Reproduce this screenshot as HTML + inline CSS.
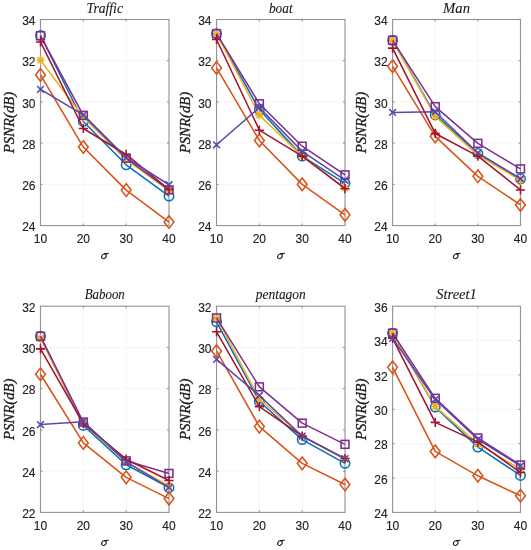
<!DOCTYPE html>
<html><head><meta charset="utf-8"><style>
html,body{margin:0;padding:0;background:#fff;width:531px;height:550px;overflow:hidden}
svg{display:block;will-change:transform}
.tk{font-family:"Liberation Sans",sans-serif;font-size:12px;fill:#1f1f1f;stroke:#1f1f1f;stroke-width:0.15px}
.ti{font-family:"Liberation Serif",serif;font-style:italic;font-size:14px;fill:#1a1a1a;stroke:#1a1a1a;stroke-width:0.1px}
.yl{font-family:"Liberation Serif",serif;font-style:italic;font-size:15.6px;fill:#1a1a1a;stroke:#1a1a1a;stroke-width:0.35px}
</style></head><body>
<svg width="531" height="550" viewBox="0 0 531 550">
<rect width="531" height="550" fill="#fff"/>
<line x1="83.33" y1="19.5" x2="83.33" y2="225.56" stroke="#f5f5f5" stroke-width="1"/>
<line x1="126.17" y1="19.5" x2="126.17" y2="225.56" stroke="#f5f5f5" stroke-width="1"/>
<line x1="40.5" y1="184.35" x2="169.0" y2="184.35" stroke="#f5f5f5" stroke-width="1"/>
<line x1="40.5" y1="143.14" x2="169.0" y2="143.14" stroke="#f5f5f5" stroke-width="1"/>
<line x1="40.5" y1="101.92" x2="169.0" y2="101.92" stroke="#f5f5f5" stroke-width="1"/>
<line x1="40.5" y1="60.71" x2="169.0" y2="60.71" stroke="#f5f5f5" stroke-width="1"/>
<rect x="40.5" y="19.5" width="128.50" height="206.06" fill="none" stroke="#949494" stroke-width="1.15"/>
<path d="M83.33 19.5v2.0M83.33 225.56v-2.0" stroke="#8c8c8c" stroke-width="1"/>
<path d="M126.17 19.5v2.0M126.17 225.56v-2.0" stroke="#8c8c8c" stroke-width="1"/>
<path d="M40.5 184.35h2.0M169.00 184.35h-2.0" stroke="#8c8c8c" stroke-width="1"/>
<path d="M40.5 143.14h2.0M169.00 143.14h-2.0" stroke="#8c8c8c" stroke-width="1"/>
<path d="M40.5 101.92h2.0M169.00 101.92h-2.0" stroke="#8c8c8c" stroke-width="1"/>
<path d="M40.5 60.71h2.0M169.00 60.71h-2.0" stroke="#8c8c8c" stroke-width="1"/>
<polyline points="40.50,35.37 83.33,121.50 126.17,164.77 169.00,196.09" fill="none" stroke="#0072BD" stroke-width="1.55" stroke-linejoin="round"/>
<circle cx="40.50" cy="35.37" r="4.7" fill="none" stroke="#0072BD" stroke-width="1.55"/>
<circle cx="83.33" cy="121.50" r="4.7" fill="none" stroke="#0072BD" stroke-width="1.55"/>
<circle cx="126.17" cy="164.77" r="4.7" fill="none" stroke="#0072BD" stroke-width="1.55"/>
<circle cx="169.00" cy="196.09" r="4.7" fill="none" stroke="#0072BD" stroke-width="1.55"/>
<polyline points="40.50,74.93 83.33,147.05 126.17,190.12 169.00,222.06" fill="none" stroke="#D95319" stroke-width="1.55" stroke-linejoin="round"/>
<path d="M40.50 68.63L45.40 74.93L40.50 81.23L35.60 74.93Z" fill="none" stroke="#D95319" stroke-width="1.55"/>
<path d="M83.33 140.75L88.23 147.05L83.33 153.35L78.43 147.05Z" fill="none" stroke="#D95319" stroke-width="1.55"/>
<path d="M126.17 183.82L131.07 190.12L126.17 196.42L121.27 190.12Z" fill="none" stroke="#D95319" stroke-width="1.55"/>
<path d="M169.00 215.76L173.90 222.06L169.00 228.36L164.10 222.06Z" fill="none" stroke="#D95319" stroke-width="1.55"/>
<polyline points="40.50,60.30 83.33,117.17 126.17,159.62 169.00,190.53" fill="none" stroke="#EDB120" stroke-width="1.55" stroke-linejoin="round"/>
<path d="M36.30 60.30H44.70M40.50 56.10V64.50M37.48 57.28L43.52 63.32M37.48 63.32L43.52 57.28" stroke="#EDB120" stroke-width="1.55"/>
<path d="M79.13 117.17H87.53M83.33 112.97V121.37M80.31 114.15L86.36 120.20M80.31 120.20L86.36 114.15" stroke="#EDB120" stroke-width="1.55"/>
<path d="M121.97 159.62H130.37M126.17 155.42V163.82M123.14 156.60L129.19 162.64M123.14 162.64L129.19 156.60" stroke="#EDB120" stroke-width="1.55"/>
<path d="M164.80 190.53H173.20M169.00 186.33V194.73M165.98 187.51L172.02 193.55M165.98 193.55L172.02 187.51" stroke="#EDB120" stroke-width="1.55"/>
<polyline points="40.50,35.78 83.33,115.32 126.17,158.18 169.00,189.91" fill="none" stroke="#7E2F8E" stroke-width="1.55" stroke-linejoin="round"/>
<rect x="36.55" y="31.83" width="7.90" height="7.90" fill="none" stroke="#7E2F8E" stroke-width="1.55"/>
<rect x="79.38" y="111.37" width="7.90" height="7.90" fill="none" stroke="#7E2F8E" stroke-width="1.55"/>
<rect x="122.22" y="154.23" width="7.90" height="7.90" fill="none" stroke="#7E2F8E" stroke-width="1.55"/>
<rect x="165.05" y="185.96" width="7.90" height="7.90" fill="none" stroke="#7E2F8E" stroke-width="1.55"/>
<polyline points="40.50,41.96 83.33,128.51 126.17,154.47 169.00,189.50" fill="none" stroke="#A2142F" stroke-width="1.55" stroke-linejoin="round"/>
<path d="M35.90 41.96H45.10M40.50 37.36V46.56" stroke="#A2142F" stroke-width="1.55"/>
<path d="M78.73 128.51H87.93M83.33 123.91V133.11" stroke="#A2142F" stroke-width="1.55"/>
<path d="M121.57 154.47H130.77M126.17 149.87V159.07" stroke="#A2142F" stroke-width="1.55"/>
<path d="M164.40 189.50H173.60M169.00 184.90V194.10" stroke="#A2142F" stroke-width="1.55"/>
<polyline points="40.50,89.35 83.33,114.91 126.17,157.56 169.00,184.76" fill="none" stroke="#5A48A8" stroke-width="1.55" stroke-linejoin="round"/>
<path d="M37.15 86.00L43.85 92.70M37.15 92.70L43.85 86.00" stroke="#5A48A8" stroke-width="1.55"/>
<path d="M79.98 111.56L86.68 118.26M79.98 118.26L86.68 111.56" stroke="#5A48A8" stroke-width="1.55"/>
<path d="M122.82 154.21L129.52 160.91M122.82 160.91L129.52 154.21" stroke="#5A48A8" stroke-width="1.55"/>
<path d="M165.65 181.41L172.35 188.11M165.65 188.11L172.35 181.41" stroke="#5A48A8" stroke-width="1.55"/>
<text x="35.50" y="231.16" class="tk" text-anchor="end">24</text>
<text x="35.50" y="189.95" class="tk" text-anchor="end">26</text>
<text x="35.50" y="148.74" class="tk" text-anchor="end">28</text>
<text x="35.50" y="107.52" class="tk" text-anchor="end">30</text>
<text x="35.50" y="66.31" class="tk" text-anchor="end">32</text>
<text x="35.50" y="25.10" class="tk" text-anchor="end">34</text>
<text x="40.50" y="243.46" class="tk" text-anchor="middle">10</text>
<text x="83.33" y="243.46" class="tk" text-anchor="middle">20</text>
<text x="126.17" y="243.46" class="tk" text-anchor="middle">30</text>
<text x="169.00" y="243.46" class="tk" text-anchor="middle">40</text>
<text x="104.75" y="13.10" class="ti" text-anchor="middle" textLength="36.4" lengthAdjust="spacingAndGlyphs">Traffic</text>
<g transform="translate(104.15,256.06)"><ellipse cx="0" cy="0.3" rx="2.05" ry="2.6" transform="rotate(38)" fill="none" stroke="#1a1a1a" stroke-width="1.05"/><path d="M0 -2.25L4.5 -2.7" stroke="#1a1a1a" stroke-width="1.1" fill="none"/></g>
<text x="0" y="0" transform="translate(13.50,122.53) rotate(-90)" class="yl" text-anchor="middle" textLength="61.5" lengthAdjust="spacingAndGlyphs">PSNR(dB)</text>
<line x1="259.37" y1="19.5" x2="259.37" y2="225.56" stroke="#f5f5f5" stroke-width="1"/>
<line x1="302.18" y1="19.5" x2="302.18" y2="225.56" stroke="#f5f5f5" stroke-width="1"/>
<line x1="216.55" y1="184.35" x2="345.0" y2="184.35" stroke="#f5f5f5" stroke-width="1"/>
<line x1="216.55" y1="143.14" x2="345.0" y2="143.14" stroke="#f5f5f5" stroke-width="1"/>
<line x1="216.55" y1="101.92" x2="345.0" y2="101.92" stroke="#f5f5f5" stroke-width="1"/>
<line x1="216.55" y1="60.71" x2="345.0" y2="60.71" stroke="#f5f5f5" stroke-width="1"/>
<rect x="216.55" y="19.5" width="128.45" height="206.06" fill="none" stroke="#949494" stroke-width="1.15"/>
<path d="M259.37 19.5v2.0M259.37 225.56v-2.0" stroke="#8c8c8c" stroke-width="1"/>
<path d="M302.18 19.5v2.0M302.18 225.56v-2.0" stroke="#8c8c8c" stroke-width="1"/>
<path d="M216.55 184.35h2.0M345.00 184.35h-2.0" stroke="#8c8c8c" stroke-width="1"/>
<path d="M216.55 143.14h2.0M345.00 143.14h-2.0" stroke="#8c8c8c" stroke-width="1"/>
<path d="M216.55 101.92h2.0M345.00 101.92h-2.0" stroke="#8c8c8c" stroke-width="1"/>
<path d="M216.55 60.71h2.0M345.00 60.71h-2.0" stroke="#8c8c8c" stroke-width="1"/>
<polyline points="216.55,33.72 259.37,109.55 302.18,156.12 345.00,183.32" fill="none" stroke="#0072BD" stroke-width="1.55" stroke-linejoin="round"/>
<circle cx="216.55" cy="33.72" r="4.7" fill="none" stroke="#0072BD" stroke-width="1.55"/>
<circle cx="259.37" cy="109.55" r="4.7" fill="none" stroke="#0072BD" stroke-width="1.55"/>
<circle cx="302.18" cy="156.12" r="4.7" fill="none" stroke="#0072BD" stroke-width="1.55"/>
<circle cx="345.00" cy="183.32" r="4.7" fill="none" stroke="#0072BD" stroke-width="1.55"/>
<polyline points="216.55,67.92 259.37,140.46 302.18,184.35 345.00,214.84" fill="none" stroke="#D95319" stroke-width="1.55" stroke-linejoin="round"/>
<path d="M216.55 61.62L221.45 67.92L216.55 74.22L211.65 67.92Z" fill="none" stroke="#D95319" stroke-width="1.55"/>
<path d="M259.37 134.16L264.27 140.46L259.37 146.76L254.47 140.46Z" fill="none" stroke="#D95319" stroke-width="1.55"/>
<path d="M302.18 178.05L307.08 184.35L302.18 190.65L297.28 184.35Z" fill="none" stroke="#D95319" stroke-width="1.55"/>
<path d="M345.00 208.54L349.90 214.84L345.00 221.14L340.10 214.84Z" fill="none" stroke="#D95319" stroke-width="1.55"/>
<polyline points="216.55,33.72 259.37,115.11 302.18,156.12 345.00,188.06" fill="none" stroke="#EDB120" stroke-width="1.55" stroke-linejoin="round"/>
<path d="M212.35 33.72H220.75M216.55 29.52V37.92M213.53 30.69L219.57 36.74M213.53 36.74L219.57 30.69" stroke="#EDB120" stroke-width="1.55"/>
<path d="M255.17 115.11H263.57M259.37 110.91V119.31M256.34 112.09L262.39 118.14M256.34 118.14L262.39 112.09" stroke="#EDB120" stroke-width="1.55"/>
<path d="M297.98 156.12H306.38M302.18 151.92V160.32M299.16 153.09L305.21 159.14M299.16 159.14L305.21 153.09" stroke="#EDB120" stroke-width="1.55"/>
<path d="M340.80 188.06H349.20M345.00 183.86V192.26M341.98 185.03L348.02 191.08M341.98 191.08L348.02 185.03" stroke="#EDB120" stroke-width="1.55"/>
<polyline points="216.55,33.72 259.37,103.78 302.18,146.23 345.00,174.87" fill="none" stroke="#7E2F8E" stroke-width="1.55" stroke-linejoin="round"/>
<rect x="212.60" y="29.77" width="7.90" height="7.90" fill="none" stroke="#7E2F8E" stroke-width="1.55"/>
<rect x="255.42" y="99.83" width="7.90" height="7.90" fill="none" stroke="#7E2F8E" stroke-width="1.55"/>
<rect x="298.23" y="142.28" width="7.90" height="7.90" fill="none" stroke="#7E2F8E" stroke-width="1.55"/>
<rect x="341.05" y="170.92" width="7.90" height="7.90" fill="none" stroke="#7E2F8E" stroke-width="1.55"/>
<polyline points="216.55,39.49 259.37,130.15 302.18,156.12 345.00,188.68" fill="none" stroke="#A2142F" stroke-width="1.55" stroke-linejoin="round"/>
<path d="M211.95 39.49H221.15M216.55 34.89V44.09" stroke="#A2142F" stroke-width="1.55"/>
<path d="M254.77 130.15H263.97M259.37 125.55V134.75" stroke="#A2142F" stroke-width="1.55"/>
<path d="M297.58 156.12H306.78M302.18 151.52V160.72" stroke="#A2142F" stroke-width="1.55"/>
<path d="M340.40 188.68H349.60M345.00 184.08V193.28" stroke="#A2142F" stroke-width="1.55"/>
<polyline points="216.55,144.78 259.37,107.49 302.18,151.38 345.00,180.23" fill="none" stroke="#5A48A8" stroke-width="1.55" stroke-linejoin="round"/>
<path d="M213.20 141.43L219.90 148.13M213.20 148.13L219.90 141.43" stroke="#5A48A8" stroke-width="1.55"/>
<path d="M256.02 104.14L262.72 110.84M256.02 110.84L262.72 104.14" stroke="#5A48A8" stroke-width="1.55"/>
<path d="M298.83 148.03L305.53 154.73M298.83 154.73L305.53 148.03" stroke="#5A48A8" stroke-width="1.55"/>
<path d="M341.65 176.88L348.35 183.58M341.65 183.58L348.35 176.88" stroke="#5A48A8" stroke-width="1.55"/>
<text x="211.55" y="231.16" class="tk" text-anchor="end">24</text>
<text x="211.55" y="189.95" class="tk" text-anchor="end">26</text>
<text x="211.55" y="148.74" class="tk" text-anchor="end">28</text>
<text x="211.55" y="107.52" class="tk" text-anchor="end">30</text>
<text x="211.55" y="66.31" class="tk" text-anchor="end">32</text>
<text x="211.55" y="25.10" class="tk" text-anchor="end">34</text>
<text x="216.55" y="243.46" class="tk" text-anchor="middle">10</text>
<text x="259.37" y="243.46" class="tk" text-anchor="middle">20</text>
<text x="302.18" y="243.46" class="tk" text-anchor="middle">30</text>
<text x="345.00" y="243.46" class="tk" text-anchor="middle">40</text>
<text x="280.77" y="13.10" class="ti" text-anchor="middle" textLength="23.6" lengthAdjust="spacingAndGlyphs">boat</text>
<g transform="translate(280.17,256.06)"><ellipse cx="0" cy="0.3" rx="2.05" ry="2.6" transform="rotate(38)" fill="none" stroke="#1a1a1a" stroke-width="1.05"/><path d="M0 -2.25L4.5 -2.7" stroke="#1a1a1a" stroke-width="1.1" fill="none"/></g>
<text x="0" y="0" transform="translate(189.55,122.53) rotate(-90)" class="yl" text-anchor="middle" textLength="61.5" lengthAdjust="spacingAndGlyphs">PSNR(dB)</text>
<line x1="435.23" y1="19.5" x2="435.23" y2="225.56" stroke="#f5f5f5" stroke-width="1"/>
<line x1="477.87" y1="19.5" x2="477.87" y2="225.56" stroke="#f5f5f5" stroke-width="1"/>
<line x1="392.6" y1="184.35" x2="520.5" y2="184.35" stroke="#f5f5f5" stroke-width="1"/>
<line x1="392.6" y1="143.14" x2="520.5" y2="143.14" stroke="#f5f5f5" stroke-width="1"/>
<line x1="392.6" y1="101.92" x2="520.5" y2="101.92" stroke="#f5f5f5" stroke-width="1"/>
<line x1="392.6" y1="60.71" x2="520.5" y2="60.71" stroke="#f5f5f5" stroke-width="1"/>
<rect x="392.6" y="19.5" width="127.90" height="206.06" fill="none" stroke="#949494" stroke-width="1.15"/>
<path d="M435.23 19.5v2.0M435.23 225.56v-2.0" stroke="#8c8c8c" stroke-width="1"/>
<path d="M477.87 19.5v2.0M477.87 225.56v-2.0" stroke="#8c8c8c" stroke-width="1"/>
<path d="M392.6 184.35h2.0M520.50 184.35h-2.0" stroke="#8c8c8c" stroke-width="1"/>
<path d="M392.6 143.14h2.0M520.50 143.14h-2.0" stroke="#8c8c8c" stroke-width="1"/>
<path d="M392.6 101.92h2.0M520.50 101.92h-2.0" stroke="#8c8c8c" stroke-width="1"/>
<path d="M392.6 60.71h2.0M520.50 60.71h-2.0" stroke="#8c8c8c" stroke-width="1"/>
<polyline points="392.60,40.31 435.23,114.91 477.87,153.44 520.50,178.78" fill="none" stroke="#0072BD" stroke-width="1.55" stroke-linejoin="round"/>
<circle cx="392.60" cy="40.31" r="4.7" fill="none" stroke="#0072BD" stroke-width="1.55"/>
<circle cx="435.23" cy="114.91" r="4.7" fill="none" stroke="#0072BD" stroke-width="1.55"/>
<circle cx="477.87" cy="153.44" r="4.7" fill="none" stroke="#0072BD" stroke-width="1.55"/>
<circle cx="520.50" cy="178.78" r="4.7" fill="none" stroke="#0072BD" stroke-width="1.55"/>
<polyline points="392.60,66.28 435.23,136.34 477.87,176.31 520.50,204.95" fill="none" stroke="#D95319" stroke-width="1.55" stroke-linejoin="round"/>
<path d="M392.60 59.98L397.50 66.28L392.60 72.58L387.70 66.28Z" fill="none" stroke="#D95319" stroke-width="1.55"/>
<path d="M435.23 130.04L440.13 136.34L435.23 142.64L430.33 136.34Z" fill="none" stroke="#D95319" stroke-width="1.55"/>
<path d="M477.87 170.01L482.77 176.31L477.87 182.61L472.97 176.31Z" fill="none" stroke="#D95319" stroke-width="1.55"/>
<path d="M520.50 198.65L525.40 204.95L520.50 211.25L515.60 204.95Z" fill="none" stroke="#D95319" stroke-width="1.55"/>
<polyline points="392.60,40.31 435.23,116.35 477.87,155.09 520.50,180.23" fill="none" stroke="#EDB120" stroke-width="1.55" stroke-linejoin="round"/>
<path d="M388.40 40.31H396.80M392.60 36.11V44.51M389.58 37.29L395.62 43.34M389.58 43.34L395.62 37.29" stroke="#EDB120" stroke-width="1.55"/>
<path d="M431.03 116.35H439.43M435.23 112.15V120.55M432.21 113.32L438.26 119.37M432.21 119.37L438.26 113.32" stroke="#EDB120" stroke-width="1.55"/>
<path d="M473.67 155.09H482.07M477.87 150.89V159.29M474.84 152.06L480.89 158.11M474.84 158.11L480.89 152.06" stroke="#EDB120" stroke-width="1.55"/>
<path d="M516.30 180.23H524.70M520.50 176.03V184.43M517.48 177.20L523.52 183.25M517.48 183.25L523.52 177.20" stroke="#EDB120" stroke-width="1.55"/>
<polyline points="392.60,40.31 435.23,106.66 477.87,143.34 520.50,168.89" fill="none" stroke="#7E2F8E" stroke-width="1.55" stroke-linejoin="round"/>
<rect x="388.65" y="36.36" width="7.90" height="7.90" fill="none" stroke="#7E2F8E" stroke-width="1.55"/>
<rect x="431.28" y="102.71" width="7.90" height="7.90" fill="none" stroke="#7E2F8E" stroke-width="1.55"/>
<rect x="473.92" y="139.39" width="7.90" height="7.90" fill="none" stroke="#7E2F8E" stroke-width="1.55"/>
<rect x="516.55" y="164.94" width="7.90" height="7.90" fill="none" stroke="#7E2F8E" stroke-width="1.55"/>
<polyline points="392.60,48.14 435.23,133.45 477.87,156.12 520.50,189.91" fill="none" stroke="#A2142F" stroke-width="1.55" stroke-linejoin="round"/>
<path d="M388.00 48.14H397.20M392.60 43.54V52.74" stroke="#A2142F" stroke-width="1.55"/>
<path d="M430.63 133.45H439.83M435.23 128.85V138.05" stroke="#A2142F" stroke-width="1.55"/>
<path d="M473.27 156.12H482.47M477.87 151.52V160.72" stroke="#A2142F" stroke-width="1.55"/>
<path d="M515.90 189.91H525.10M520.50 185.31V194.51" stroke="#A2142F" stroke-width="1.55"/>
<polyline points="392.60,112.43 435.23,111.81 477.87,153.03 520.50,178.78" fill="none" stroke="#5A48A8" stroke-width="1.55" stroke-linejoin="round"/>
<path d="M389.25 109.08L395.95 115.78M389.25 115.78L395.95 109.08" stroke="#5A48A8" stroke-width="1.55"/>
<path d="M431.88 108.46L438.58 115.16M431.88 115.16L438.58 108.46" stroke="#5A48A8" stroke-width="1.55"/>
<path d="M474.52 149.68L481.22 156.38M474.52 156.38L481.22 149.68" stroke="#5A48A8" stroke-width="1.55"/>
<path d="M517.15 175.43L523.85 182.13M517.15 182.13L523.85 175.43" stroke="#5A48A8" stroke-width="1.55"/>
<text x="387.60" y="231.16" class="tk" text-anchor="end">24</text>
<text x="387.60" y="189.95" class="tk" text-anchor="end">26</text>
<text x="387.60" y="148.74" class="tk" text-anchor="end">28</text>
<text x="387.60" y="107.52" class="tk" text-anchor="end">30</text>
<text x="387.60" y="66.31" class="tk" text-anchor="end">32</text>
<text x="387.60" y="25.10" class="tk" text-anchor="end">34</text>
<text x="392.60" y="243.46" class="tk" text-anchor="middle">10</text>
<text x="435.23" y="243.46" class="tk" text-anchor="middle">20</text>
<text x="477.87" y="243.46" class="tk" text-anchor="middle">30</text>
<text x="520.50" y="243.46" class="tk" text-anchor="middle">40</text>
<text x="456.55" y="13.10" class="ti" text-anchor="middle" textLength="26.9" lengthAdjust="spacingAndGlyphs">Man</text>
<g transform="translate(455.95,256.06)"><ellipse cx="0" cy="0.3" rx="2.05" ry="2.6" transform="rotate(38)" fill="none" stroke="#1a1a1a" stroke-width="1.05"/><path d="M0 -2.25L4.5 -2.7" stroke="#1a1a1a" stroke-width="1.1" fill="none"/></g>
<text x="0" y="0" transform="translate(365.60,122.53) rotate(-90)" class="yl" text-anchor="middle" textLength="61.5" lengthAdjust="spacingAndGlyphs">PSNR(dB)</text>
<line x1="83.33" y1="306.2" x2="83.33" y2="512.4" stroke="#f5f5f5" stroke-width="1"/>
<line x1="126.17" y1="306.2" x2="126.17" y2="512.4" stroke="#f5f5f5" stroke-width="1"/>
<line x1="40.5" y1="471.16" x2="169.0" y2="471.16" stroke="#f5f5f5" stroke-width="1"/>
<line x1="40.5" y1="429.92" x2="169.0" y2="429.92" stroke="#f5f5f5" stroke-width="1"/>
<line x1="40.5" y1="388.68" x2="169.0" y2="388.68" stroke="#f5f5f5" stroke-width="1"/>
<line x1="40.5" y1="347.44" x2="169.0" y2="347.44" stroke="#f5f5f5" stroke-width="1"/>
<rect x="40.5" y="306.2" width="128.50" height="206.20" fill="none" stroke="#949494" stroke-width="1.15"/>
<path d="M83.33 306.2v2.0M83.33 512.4v-2.0" stroke="#8c8c8c" stroke-width="1"/>
<path d="M126.17 306.2v2.0M126.17 512.4v-2.0" stroke="#8c8c8c" stroke-width="1"/>
<path d="M40.5 471.16h2.0M169.00 471.16h-2.0" stroke="#8c8c8c" stroke-width="1"/>
<path d="M40.5 429.92h2.0M169.00 429.92h-2.0" stroke="#8c8c8c" stroke-width="1"/>
<path d="M40.5 388.68h2.0M169.00 388.68h-2.0" stroke="#8c8c8c" stroke-width="1"/>
<path d="M40.5 347.44h2.0M169.00 347.44h-2.0" stroke="#8c8c8c" stroke-width="1"/>
<polyline points="40.50,336.31 83.33,425.38 126.17,464.77 169.00,487.66" fill="none" stroke="#0072BD" stroke-width="1.55" stroke-linejoin="round"/>
<circle cx="40.50" cy="336.31" r="4.7" fill="none" stroke="#0072BD" stroke-width="1.55"/>
<circle cx="83.33" cy="425.38" r="4.7" fill="none" stroke="#0072BD" stroke-width="1.55"/>
<circle cx="126.17" cy="464.77" r="4.7" fill="none" stroke="#0072BD" stroke-width="1.55"/>
<circle cx="169.00" cy="487.66" r="4.7" fill="none" stroke="#0072BD" stroke-width="1.55"/>
<polyline points="40.50,374.25 83.33,442.91 126.17,477.35 169.00,498.58" fill="none" stroke="#D95319" stroke-width="1.55" stroke-linejoin="round"/>
<path d="M40.50 367.95L45.40 374.25L40.50 380.55L35.60 374.25Z" fill="none" stroke="#D95319" stroke-width="1.55"/>
<path d="M83.33 436.61L88.23 442.91L83.33 449.21L78.43 442.91Z" fill="none" stroke="#D95319" stroke-width="1.55"/>
<path d="M126.17 471.05L131.07 477.35L126.17 483.65L121.27 477.35Z" fill="none" stroke="#D95319" stroke-width="1.55"/>
<path d="M169.00 492.28L173.90 498.58L169.00 504.88L164.10 498.58Z" fill="none" stroke="#D95319" stroke-width="1.55"/>
<polyline points="40.50,338.37 83.33,423.73 126.17,461.88 169.00,486.01" fill="none" stroke="#EDB120" stroke-width="1.55" stroke-linejoin="round"/>
<path d="M36.30 338.37H44.70M40.50 334.17V342.57M37.48 335.34L43.52 341.39M37.48 341.39L43.52 335.34" stroke="#EDB120" stroke-width="1.55"/>
<path d="M79.13 423.73H87.53M83.33 419.53V427.93M80.31 420.71L86.36 426.76M80.31 426.76L86.36 420.71" stroke="#EDB120" stroke-width="1.55"/>
<path d="M121.97 461.88H130.37M126.17 457.68V466.08M123.14 458.86L129.19 464.90M123.14 464.90L129.19 458.86" stroke="#EDB120" stroke-width="1.55"/>
<path d="M164.80 486.01H173.20M169.00 481.81V490.21M165.98 482.98L172.02 489.03M165.98 489.03L172.02 482.98" stroke="#EDB120" stroke-width="1.55"/>
<polyline points="40.50,336.31 83.33,422.08 126.17,460.85 169.00,473.43" fill="none" stroke="#7E2F8E" stroke-width="1.55" stroke-linejoin="round"/>
<rect x="36.55" y="332.36" width="7.90" height="7.90" fill="none" stroke="#7E2F8E" stroke-width="1.55"/>
<rect x="79.38" y="418.13" width="7.90" height="7.90" fill="none" stroke="#7E2F8E" stroke-width="1.55"/>
<rect x="122.22" y="456.90" width="7.90" height="7.90" fill="none" stroke="#7E2F8E" stroke-width="1.55"/>
<rect x="165.05" y="469.48" width="7.90" height="7.90" fill="none" stroke="#7E2F8E" stroke-width="1.55"/>
<polyline points="40.50,348.88 83.33,423.73 126.17,459.20 169.00,480.44" fill="none" stroke="#A2142F" stroke-width="1.55" stroke-linejoin="round"/>
<path d="M35.90 348.88H45.10M40.50 344.28V353.48" stroke="#A2142F" stroke-width="1.55"/>
<path d="M78.73 423.73H87.93M83.33 419.13V428.33" stroke="#A2142F" stroke-width="1.55"/>
<path d="M121.57 459.20H130.77M126.17 454.60V463.80" stroke="#A2142F" stroke-width="1.55"/>
<path d="M164.40 480.44H173.60M169.00 475.84V485.04" stroke="#A2142F" stroke-width="1.55"/>
<polyline points="40.50,424.56 83.33,421.67 126.17,461.88 169.00,487.66" fill="none" stroke="#5A48A8" stroke-width="1.55" stroke-linejoin="round"/>
<path d="M37.15 421.21L43.85 427.91M37.15 427.91L43.85 421.21" stroke="#5A48A8" stroke-width="1.55"/>
<path d="M79.98 418.32L86.68 425.02M79.98 425.02L86.68 418.32" stroke="#5A48A8" stroke-width="1.55"/>
<path d="M122.82 458.53L129.52 465.23M122.82 465.23L129.52 458.53" stroke="#5A48A8" stroke-width="1.55"/>
<path d="M165.65 484.31L172.35 491.01M165.65 491.01L172.35 484.31" stroke="#5A48A8" stroke-width="1.55"/>
<text x="35.50" y="518.00" class="tk" text-anchor="end">22</text>
<text x="35.50" y="476.76" class="tk" text-anchor="end">24</text>
<text x="35.50" y="435.52" class="tk" text-anchor="end">26</text>
<text x="35.50" y="394.28" class="tk" text-anchor="end">28</text>
<text x="35.50" y="353.04" class="tk" text-anchor="end">30</text>
<text x="35.50" y="311.80" class="tk" text-anchor="end">32</text>
<text x="40.50" y="530.30" class="tk" text-anchor="middle">10</text>
<text x="83.33" y="530.30" class="tk" text-anchor="middle">20</text>
<text x="126.17" y="530.30" class="tk" text-anchor="middle">30</text>
<text x="169.00" y="530.30" class="tk" text-anchor="middle">40</text>
<text x="104.75" y="299.40" class="ti" text-anchor="middle" textLength="40.1" lengthAdjust="spacingAndGlyphs">Baboon</text>
<g transform="translate(104.15,542.90)"><ellipse cx="0" cy="0.3" rx="2.05" ry="2.6" transform="rotate(38)" fill="none" stroke="#1a1a1a" stroke-width="1.05"/><path d="M0 -2.25L4.5 -2.7" stroke="#1a1a1a" stroke-width="1.1" fill="none"/></g>
<text x="0" y="0" transform="translate(13.50,409.30) rotate(-90)" class="yl" text-anchor="middle" textLength="61.5" lengthAdjust="spacingAndGlyphs">PSNR(dB)</text>
<line x1="259.37" y1="306.2" x2="259.37" y2="512.4" stroke="#f5f5f5" stroke-width="1"/>
<line x1="302.18" y1="306.2" x2="302.18" y2="512.4" stroke="#f5f5f5" stroke-width="1"/>
<line x1="216.55" y1="471.16" x2="345.0" y2="471.16" stroke="#f5f5f5" stroke-width="1"/>
<line x1="216.55" y1="429.92" x2="345.0" y2="429.92" stroke="#f5f5f5" stroke-width="1"/>
<line x1="216.55" y1="388.68" x2="345.0" y2="388.68" stroke="#f5f5f5" stroke-width="1"/>
<line x1="216.55" y1="347.44" x2="345.0" y2="347.44" stroke="#f5f5f5" stroke-width="1"/>
<rect x="216.55" y="306.2" width="128.45" height="206.20" fill="none" stroke="#949494" stroke-width="1.15"/>
<path d="M259.37 306.2v2.0M259.37 512.4v-2.0" stroke="#8c8c8c" stroke-width="1"/>
<path d="M302.18 306.2v2.0M302.18 512.4v-2.0" stroke="#8c8c8c" stroke-width="1"/>
<path d="M216.55 471.16h2.0M345.00 471.16h-2.0" stroke="#8c8c8c" stroke-width="1"/>
<path d="M216.55 429.92h2.0M345.00 429.92h-2.0" stroke="#8c8c8c" stroke-width="1"/>
<path d="M216.55 388.68h2.0M345.00 388.68h-2.0" stroke="#8c8c8c" stroke-width="1"/>
<path d="M216.55 347.44h2.0M345.00 347.44h-2.0" stroke="#8c8c8c" stroke-width="1"/>
<polyline points="216.55,321.87 259.37,401.46 302.18,439.61 345.00,463.32" fill="none" stroke="#0072BD" stroke-width="1.55" stroke-linejoin="round"/>
<circle cx="216.55" cy="321.87" r="4.7" fill="none" stroke="#0072BD" stroke-width="1.55"/>
<circle cx="259.37" cy="401.46" r="4.7" fill="none" stroke="#0072BD" stroke-width="1.55"/>
<circle cx="302.18" cy="439.61" r="4.7" fill="none" stroke="#0072BD" stroke-width="1.55"/>
<circle cx="345.00" cy="463.32" r="4.7" fill="none" stroke="#0072BD" stroke-width="1.55"/>
<polyline points="216.55,350.95 259.37,426.62 302.18,463.32 345.00,484.56" fill="none" stroke="#D95319" stroke-width="1.55" stroke-linejoin="round"/>
<path d="M216.55 344.65L221.45 350.95L216.55 357.25L211.65 350.95Z" fill="none" stroke="#D95319" stroke-width="1.55"/>
<path d="M259.37 420.32L264.27 426.62L259.37 432.92L254.47 426.62Z" fill="none" stroke="#D95319" stroke-width="1.55"/>
<path d="M302.18 457.02L307.08 463.32L302.18 469.62L297.28 463.32Z" fill="none" stroke="#D95319" stroke-width="1.55"/>
<path d="M345.00 478.26L349.90 484.56L345.00 490.86L340.10 484.56Z" fill="none" stroke="#D95319" stroke-width="1.55"/>
<polyline points="216.55,317.95 259.37,398.99 302.18,436.11 345.00,459.20" fill="none" stroke="#EDB120" stroke-width="1.55" stroke-linejoin="round"/>
<path d="M212.35 317.95H220.75M216.55 313.75V322.15M213.53 314.93L219.57 320.98M213.53 320.98L219.57 314.93" stroke="#EDB120" stroke-width="1.55"/>
<path d="M255.17 398.99H263.57M259.37 394.79V403.19M256.34 395.97L262.39 402.01M256.34 402.01L262.39 395.97" stroke="#EDB120" stroke-width="1.55"/>
<path d="M297.98 436.11H306.38M302.18 431.91V440.31M299.16 433.08L305.21 439.13M299.16 439.13L305.21 433.08" stroke="#EDB120" stroke-width="1.55"/>
<path d="M340.80 459.20H349.20M345.00 455.00V463.40M341.98 456.18L348.02 462.22M341.98 462.22L348.02 456.18" stroke="#EDB120" stroke-width="1.55"/>
<polyline points="216.55,317.95 259.37,386.82 302.18,423.12 345.00,444.35" fill="none" stroke="#7E2F8E" stroke-width="1.55" stroke-linejoin="round"/>
<rect x="212.60" y="314.00" width="7.90" height="7.90" fill="none" stroke="#7E2F8E" stroke-width="1.55"/>
<rect x="255.42" y="382.87" width="7.90" height="7.90" fill="none" stroke="#7E2F8E" stroke-width="1.55"/>
<rect x="298.23" y="419.17" width="7.90" height="7.90" fill="none" stroke="#7E2F8E" stroke-width="1.55"/>
<rect x="341.05" y="440.40" width="7.90" height="7.90" fill="none" stroke="#7E2F8E" stroke-width="1.55"/>
<polyline points="216.55,331.77 259.37,406.62 302.18,436.11 345.00,458.58" fill="none" stroke="#A2142F" stroke-width="1.55" stroke-linejoin="round"/>
<path d="M211.95 331.77H221.15M216.55 327.17V336.37" stroke="#A2142F" stroke-width="1.55"/>
<path d="M254.77 406.62H263.97M259.37 402.02V411.22" stroke="#A2142F" stroke-width="1.55"/>
<path d="M297.58 436.11H306.78M302.18 431.51V440.71" stroke="#A2142F" stroke-width="1.55"/>
<path d="M340.40 458.58H349.60M345.00 453.98V463.18" stroke="#A2142F" stroke-width="1.55"/>
<polyline points="216.55,359.40 259.37,395.48 302.18,436.11 345.00,458.58" fill="none" stroke="#5A48A8" stroke-width="1.55" stroke-linejoin="round"/>
<path d="M213.20 356.05L219.90 362.75M213.20 362.75L219.90 356.05" stroke="#5A48A8" stroke-width="1.55"/>
<path d="M256.02 392.13L262.72 398.83M256.02 398.83L262.72 392.13" stroke="#5A48A8" stroke-width="1.55"/>
<path d="M298.83 432.76L305.53 439.46M298.83 439.46L305.53 432.76" stroke="#5A48A8" stroke-width="1.55"/>
<path d="M341.65 455.23L348.35 461.93M341.65 461.93L348.35 455.23" stroke="#5A48A8" stroke-width="1.55"/>
<text x="211.55" y="518.00" class="tk" text-anchor="end">22</text>
<text x="211.55" y="476.76" class="tk" text-anchor="end">24</text>
<text x="211.55" y="435.52" class="tk" text-anchor="end">26</text>
<text x="211.55" y="394.28" class="tk" text-anchor="end">28</text>
<text x="211.55" y="353.04" class="tk" text-anchor="end">30</text>
<text x="211.55" y="311.80" class="tk" text-anchor="end">32</text>
<text x="216.55" y="530.30" class="tk" text-anchor="middle">10</text>
<text x="259.37" y="530.30" class="tk" text-anchor="middle">20</text>
<text x="302.18" y="530.30" class="tk" text-anchor="middle">30</text>
<text x="345.00" y="530.30" class="tk" text-anchor="middle">40</text>
<text x="280.77" y="299.40" class="ti" text-anchor="middle" textLength="50.0" lengthAdjust="spacingAndGlyphs">pentagon</text>
<g transform="translate(280.17,542.90)"><ellipse cx="0" cy="0.3" rx="2.05" ry="2.6" transform="rotate(38)" fill="none" stroke="#1a1a1a" stroke-width="1.05"/><path d="M0 -2.25L4.5 -2.7" stroke="#1a1a1a" stroke-width="1.1" fill="none"/></g>
<text x="0" y="0" transform="translate(189.55,409.30) rotate(-90)" class="yl" text-anchor="middle" textLength="61.5" lengthAdjust="spacingAndGlyphs">PSNR(dB)</text>
<line x1="435.23" y1="306.2" x2="435.23" y2="512.4" stroke="#f5f5f5" stroke-width="1"/>
<line x1="477.87" y1="306.2" x2="477.87" y2="512.4" stroke="#f5f5f5" stroke-width="1"/>
<line x1="392.6" y1="478.03" x2="520.5" y2="478.03" stroke="#f5f5f5" stroke-width="1"/>
<line x1="392.6" y1="443.67" x2="520.5" y2="443.67" stroke="#f5f5f5" stroke-width="1"/>
<line x1="392.6" y1="409.30" x2="520.5" y2="409.30" stroke="#f5f5f5" stroke-width="1"/>
<line x1="392.6" y1="374.93" x2="520.5" y2="374.93" stroke="#f5f5f5" stroke-width="1"/>
<line x1="392.6" y1="340.57" x2="520.5" y2="340.57" stroke="#f5f5f5" stroke-width="1"/>
<rect x="392.6" y="306.2" width="127.90" height="206.20" fill="none" stroke="#949494" stroke-width="1.15"/>
<path d="M435.23 306.2v2.0M435.23 512.4v-2.0" stroke="#8c8c8c" stroke-width="1"/>
<path d="M477.87 306.2v2.0M477.87 512.4v-2.0" stroke="#8c8c8c" stroke-width="1"/>
<path d="M392.6 478.03h2.0M520.50 478.03h-2.0" stroke="#8c8c8c" stroke-width="1"/>
<path d="M392.6 443.67h2.0M520.50 443.67h-2.0" stroke="#8c8c8c" stroke-width="1"/>
<path d="M392.6 409.30h2.0M520.50 409.30h-2.0" stroke="#8c8c8c" stroke-width="1"/>
<path d="M392.6 374.93h2.0M520.50 374.93h-2.0" stroke="#8c8c8c" stroke-width="1"/>
<path d="M392.6 340.57h2.0M520.50 340.57h-2.0" stroke="#8c8c8c" stroke-width="1"/>
<polyline points="392.60,333.18 435.23,407.07 477.87,447.10 520.50,475.46" fill="none" stroke="#0072BD" stroke-width="1.55" stroke-linejoin="round"/>
<circle cx="392.60" cy="333.18" r="4.7" fill="none" stroke="#0072BD" stroke-width="1.55"/>
<circle cx="435.23" cy="407.07" r="4.7" fill="none" stroke="#0072BD" stroke-width="1.55"/>
<circle cx="477.87" cy="447.10" r="4.7" fill="none" stroke="#0072BD" stroke-width="1.55"/>
<circle cx="520.50" cy="475.46" r="4.7" fill="none" stroke="#0072BD" stroke-width="1.55"/>
<polyline points="392.60,367.37 435.23,451.40 477.87,475.80 520.50,495.73" fill="none" stroke="#D95319" stroke-width="1.55" stroke-linejoin="round"/>
<path d="M392.60 361.07L397.50 367.37L392.60 373.67L387.70 367.37Z" fill="none" stroke="#D95319" stroke-width="1.55"/>
<path d="M435.23 445.10L440.13 451.40L435.23 457.70L430.33 451.40Z" fill="none" stroke="#D95319" stroke-width="1.55"/>
<path d="M477.87 469.50L482.77 475.80L477.87 482.10L472.97 475.80Z" fill="none" stroke="#D95319" stroke-width="1.55"/>
<path d="M520.50 489.43L525.40 495.73L520.50 502.03L515.60 495.73Z" fill="none" stroke="#D95319" stroke-width="1.55"/>
<polyline points="392.60,333.18 435.23,406.55 477.87,443.67 520.50,469.44" fill="none" stroke="#EDB120" stroke-width="1.55" stroke-linejoin="round"/>
<path d="M388.40 333.18H396.80M392.60 328.98V337.38M389.58 330.15L395.62 336.20M389.58 336.20L395.62 330.15" stroke="#EDB120" stroke-width="1.55"/>
<path d="M431.03 406.55H439.43M435.23 402.35V410.75M432.21 403.53L438.26 409.57M432.21 409.57L438.26 403.53" stroke="#EDB120" stroke-width="1.55"/>
<path d="M473.67 443.67H482.07M477.87 439.47V447.87M474.84 440.64L480.89 446.69M474.84 446.69L480.89 440.64" stroke="#EDB120" stroke-width="1.55"/>
<path d="M516.30 469.44H524.70M520.50 465.24V473.64M517.48 466.42L523.52 472.47M517.48 472.47L523.52 466.42" stroke="#EDB120" stroke-width="1.55"/>
<polyline points="392.60,333.18 435.23,398.30 477.87,438.00 520.50,464.97" fill="none" stroke="#7E2F8E" stroke-width="1.55" stroke-linejoin="round"/>
<rect x="388.65" y="329.23" width="7.90" height="7.90" fill="none" stroke="#7E2F8E" stroke-width="1.55"/>
<rect x="431.28" y="394.35" width="7.90" height="7.90" fill="none" stroke="#7E2F8E" stroke-width="1.55"/>
<rect x="473.92" y="434.05" width="7.90" height="7.90" fill="none" stroke="#7E2F8E" stroke-width="1.55"/>
<rect x="516.55" y="461.02" width="7.90" height="7.90" fill="none" stroke="#7E2F8E" stroke-width="1.55"/>
<polyline points="392.60,338.33 435.23,422.36 477.87,442.12 520.50,472.53" fill="none" stroke="#A2142F" stroke-width="1.55" stroke-linejoin="round"/>
<path d="M388.00 338.33H397.20M392.60 333.73V342.93" stroke="#A2142F" stroke-width="1.55"/>
<path d="M430.63 422.36H439.83M435.23 417.76V426.96" stroke="#A2142F" stroke-width="1.55"/>
<path d="M473.27 442.12H482.47M477.87 437.52V446.72" stroke="#A2142F" stroke-width="1.55"/>
<path d="M515.90 472.53H525.10M520.50 467.93V477.13" stroke="#A2142F" stroke-width="1.55"/>
<polyline points="392.60,338.33 435.23,399.51 477.87,439.37 520.50,466.00" fill="none" stroke="#5A48A8" stroke-width="1.55" stroke-linejoin="round"/>
<path d="M389.25 334.98L395.95 341.68M389.25 341.68L395.95 334.98" stroke="#5A48A8" stroke-width="1.55"/>
<path d="M431.88 396.16L438.58 402.86M431.88 402.86L438.58 396.16" stroke="#5A48A8" stroke-width="1.55"/>
<path d="M474.52 436.02L481.22 442.72M474.52 442.72L481.22 436.02" stroke="#5A48A8" stroke-width="1.55"/>
<path d="M517.15 462.65L523.85 469.36M517.15 469.36L523.85 462.65" stroke="#5A48A8" stroke-width="1.55"/>
<text x="387.60" y="518.00" class="tk" text-anchor="end">24</text>
<text x="387.60" y="483.63" class="tk" text-anchor="end">26</text>
<text x="387.60" y="449.27" class="tk" text-anchor="end">28</text>
<text x="387.60" y="414.90" class="tk" text-anchor="end">30</text>
<text x="387.60" y="380.53" class="tk" text-anchor="end">32</text>
<text x="387.60" y="346.17" class="tk" text-anchor="end">34</text>
<text x="387.60" y="311.80" class="tk" text-anchor="end">36</text>
<text x="392.60" y="530.30" class="tk" text-anchor="middle">10</text>
<text x="435.23" y="530.30" class="tk" text-anchor="middle">20</text>
<text x="477.87" y="530.30" class="tk" text-anchor="middle">30</text>
<text x="520.50" y="530.30" class="tk" text-anchor="middle">40</text>
<text x="456.55" y="299.40" class="ti" text-anchor="middle" textLength="40.5" lengthAdjust="spacingAndGlyphs">Street1</text>
<g transform="translate(455.95,542.90)"><ellipse cx="0" cy="0.3" rx="2.05" ry="2.6" transform="rotate(38)" fill="none" stroke="#1a1a1a" stroke-width="1.05"/><path d="M0 -2.25L4.5 -2.7" stroke="#1a1a1a" stroke-width="1.1" fill="none"/></g>
<text x="0" y="0" transform="translate(365.60,409.30) rotate(-90)" class="yl" text-anchor="middle" textLength="61.5" lengthAdjust="spacingAndGlyphs">PSNR(dB)</text>
</svg>
</body></html>
